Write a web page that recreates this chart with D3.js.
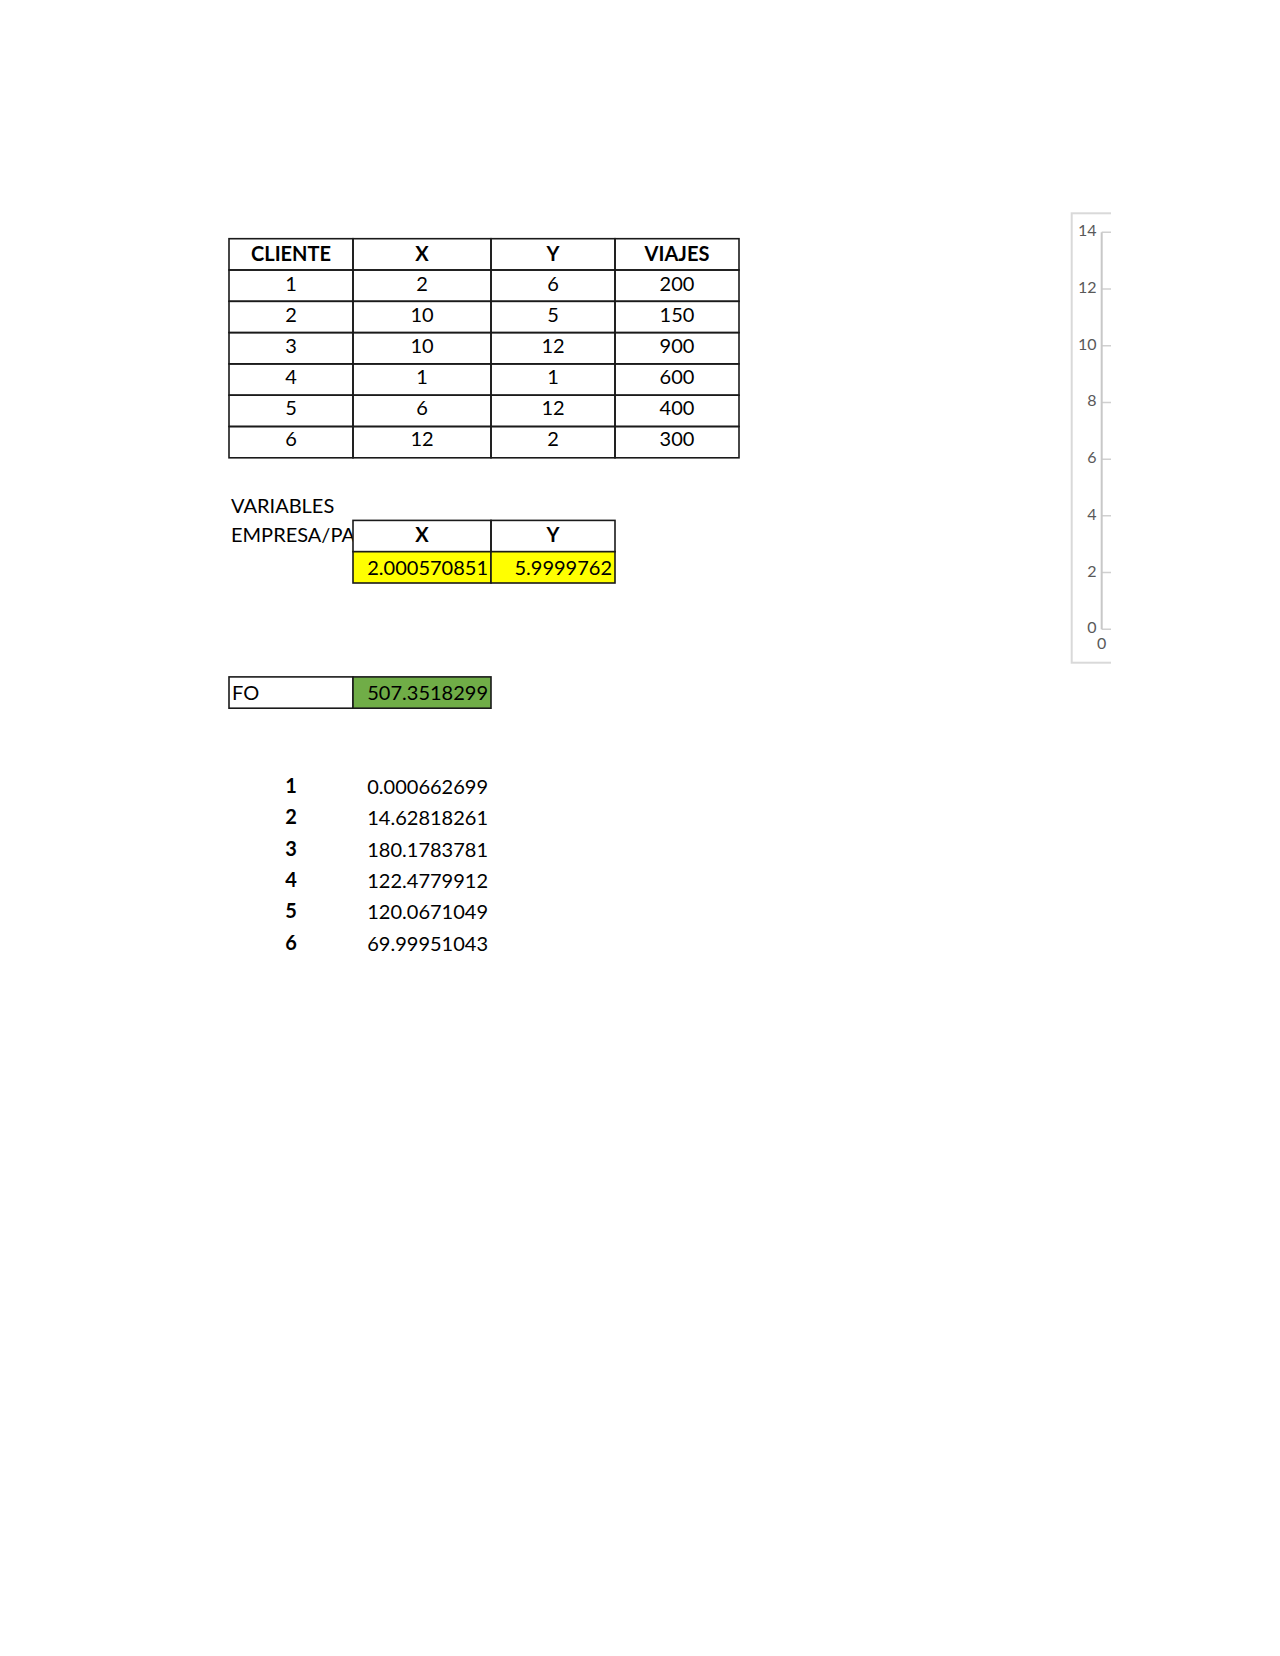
<!DOCTYPE html>
<meta charset="utf-8">
<style>
  body { margin: 0; background: #fff; }
  svg { display: block; font-family: Lato, "Open Sans", sans-serif; }
</style>
<svg width="1280" height="1656"></svg>
<script src="https://d3js.org/d3.v7.min.js"></script>
<script>

// clientes
var clientes = [1, 2, 3, 4, 5, 6];
var coordX = [2, 10, 10, 1, 6, 12];
var coordY = [6, 5, 12, 1, 12, 2];
var viajes = [200, 150, 900, 600, 400, 300];
var encabezados = ["CLIENTE", "X", "Y", "VIAJES"];

// variables empresa/parque
var varX = 2.000570851;
var varY = 5.9999762;
var fo = 507.3518299;

// costo por cliente
var costos = [0.000662699, 14.62818261, 180.1783781, 122.4779912, 120.0671049, 69.99951043];

// eje del grafico
var ejeTicks = [0, 2, 4, 6, 8, 10, 12, 14];

var svg = d3.select("svg");
var fs = 20;

// spreadsheet grid
var colX = [229, 353, 491, 615, 739];
var top0 = 238.7, rowH = 31.3;
function rowTop(k) { return top0 + rowH * k; }
function base(k, off) { return rowTop(k + 1) - (off || 8); }

function cell(g, c, k, opts) {
  var x0 = colX[c], x1 = colX[c + 1];
  g.append("rect")
      .attr("x", x0).attr("y", rowTop(k))
      .attr("width", x1 - x0).attr("height", rowH)
      .attr("fill", opts.fill || "none")
      .attr("stroke", "#1a1a1a")
      .attr("stroke-width", 1.6);
  if (opts.text === undefined) return;
  var t = g.append("text")
      .attr("y", base(k, opts.off))
      .attr("font-size", fs)
      .attr("font-weight", opts.bold ? "bold" : null)
      .attr("fill", "#000")
      .text(opts.text);
  if (opts.align === "right") t.attr("x", x1 - 3).attr("text-anchor", "end");
  else if (opts.align === "left") t.attr("x", x0 + 3);
  else t.attr("x", (x0 + x1) / 2).attr("text-anchor", "middle");
}

var tabla = svg.append("g");
encabezados.forEach(function(h, i) { cell(tabla, i, 0, {text: h, bold: true, off: 9.5}); });
clientes.forEach(function(c, i) {
  var fila = [c, coordX[i], coordY[i], viajes[i]];
  fila.forEach(function(v, j) { cell(tabla, j, i + 1, {text: String(v), off: 10.5 + i * 0.3}); });
});

// variables
var vars = svg.append("g");
vars.append("text")
    .attr("x", 231).attr("y", base(8, 7.5))
    .attr("font-size", fs)
    .text("VARIABLES");
vars.append("clipPath").attr("id", "clipPA")
  .append("rect").attr("x", 229).attr("y", rowTop(9)).attr("width", 353 - 229).attr("height", rowH);
vars.append("text")
    .attr("x", 231).attr("y", base(9, 9.5))
    .attr("font-size", fs)
    .attr("clip-path", "url(#clipPA)")
    .text("EMPRESA/PARQUE");
cell(vars, 1, 9, {text: "X", bold: true, off: 9.5});
cell(vars, 2, 9, {text: "Y", bold: true, off: 9.5});
cell(vars, 1, 10, {text: String(varX), align: "right", fill: "#ffff00", off: 8.5});
cell(vars, 2, 10, {text: String(varY), align: "right", fill: "#ffff00", off: 8.5});

// funcion objetivo
var fog = svg.append("g");
cell(fog, 0, 14, {text: "FO", align: "left", off: 8});
cell(fog, 1, 14, {text: String(fo), align: "right", fill: "#70ad47", off: 8});

// lista de costos
var lista = svg.append("g");
lista.selectAll("text.num")
  .data(clientes)
  .enter().append("text")
    .attr("class", "num")
    .attr("x", 291)
    .attr("y", function(d, i) { return base(17 + i, 9); })
    .attr("text-anchor", "middle")
    .attr("font-size", fs)
    .attr("font-weight", "bold")
    .text(function(d) { return d; });
lista.selectAll("text.val")
  .data(costos)
  .enter().append("text")
    .attr("class", "val")
    .attr("x", 488)
    .attr("y", function(d, i) { return base(17 + i, 8); })
    .attr("text-anchor", "end")
    .attr("font-size", fs)
    .text(function(d) { return String(d); });

// chart (cut at the page edge)
var grafico = svg.append("g");
grafico.append("clipPath").attr("id", "clipChart")
  .append("rect").attr("x", 1060).attr("y", 200).attr("width", 51).attr("height", 470);

var y = d3.scaleLinear().domain([0, 14]).range([629.3, 232.3]);
var x = d3.scaleLinear().domain([0, 14]).range([1101.7, 1101.7 + 560]);

var area = grafico.append("g").attr("clip-path", "url(#clipChart)");

area.append("rect")
    .attr("x", 1071.7).attr("y", 213.3)
    .attr("width", 700).attr("height", 449.4)
    .attr("fill", "#fff")
    .attr("stroke", "#d9d9d9")
    .attr("stroke-width", 2);

area.selectAll("line.grid")
  .data(ejeTicks)
  .enter().append("line")
    .attr("class", "grid")
    .attr("x1", x(0)).attr("x2", x(14))
    .attr("y1", function(d) { return y(d); })
    .attr("y2", function(d) { return y(d); })
    .attr("stroke", "#d0d0d0")
    .attr("stroke-width", 1.5);

area.append("line")
    .attr("x1", x(0)).attr("x2", x(0))
    .attr("y1", y(14)).attr("y2", y(0))
    .attr("stroke", "#c8c8c8")
    .attr("stroke-width", 2);

area.selectAll("circle")
  .data(clientes)
  .enter().append("circle")
    .attr("cx", function(d, i) { return x(coordX[i]); })
    .attr("cy", function(d, i) { return y(coordY[i]); })
    .attr("r", 5)
    .attr("fill", "#4472c4");

grafico.selectAll("text.tick")
  .data(ejeTicks)
  .enter().append("text")
    .attr("class", "tick")
    .attr("x", 1096.5)
    .attr("y", function(d) { return y(d); })
    .attr("dy", "0.25em")
    .attr("text-anchor", "end")
    .attr("font-size", 16)
    .attr("fill", "#595959")
    .text(function(d) { return d; });

grafico.append("text")
    .attr("x", x(0))
    .attr("y", 649)
    .attr("text-anchor", "middle")
    .attr("font-size", 16)
    .attr("fill", "#595959")
    .text("0");

</script>
